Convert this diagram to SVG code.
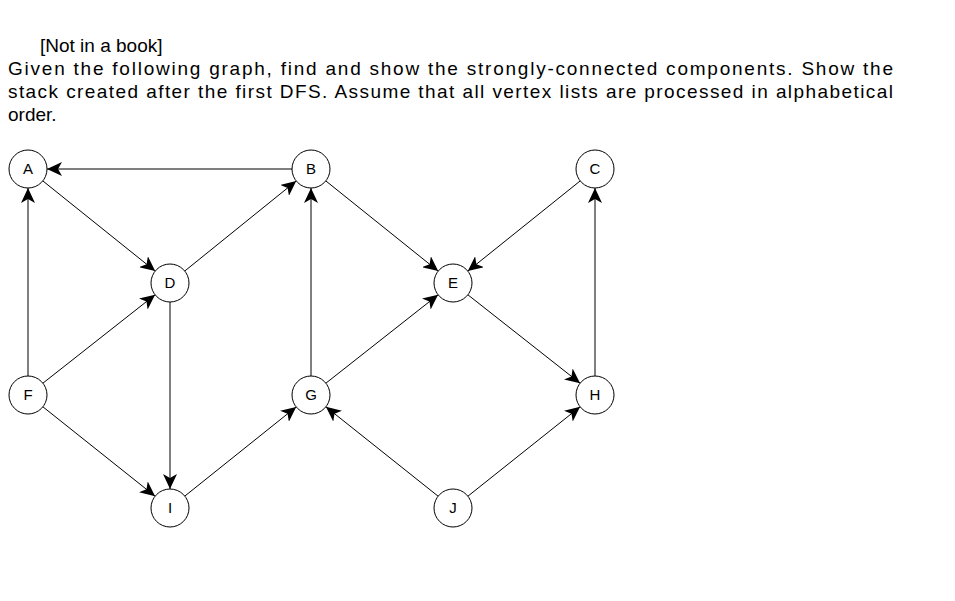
<svg xmlns="http://www.w3.org/2000/svg" width="955" height="601" viewBox="0 0 955 601">
<style>
.t{font-family:"Liberation Sans",Arial,sans-serif;font-size:19px;fill:#000}
.n circle{fill:#fff;stroke:#000;stroke-width:1}
.n text{font-family:"Liberation Sans",Arial,sans-serif;font-size:15px;text-anchor:middle;fill:#000}
#edges line{stroke:#000;stroke-width:1;marker-end:url(#ah)}
</style>
<defs><marker id="ah" markerUnits="userSpaceOnUse" markerWidth="16" markerHeight="14" refX="15" refY="7" orient="auto"><path d="M0,0 L15,7 L0,14 L4,7 z" fill="#000"/></marker></defs>
<rect width="955" height="601" fill="#fff"/>
<text class="t" x="40" y="52">[Not in a book]</text>
<text class="t" x="8" y="75" textLength="885" lengthAdjust="spacing">Given the following graph, find and show the strongly-connected components.  Show the</text>
<text class="t" x="8" y="98" textLength="885" lengthAdjust="spacing">stack created after the first DFS. Assume that all vertex lists are processed in alphabetical</text>
<text class="t" x="8" y="121">order.</text>
<g id="edges">
<line x1="292" y1="169" x2="47" y2="169"/>
<line x1="42.8" y1="180.9" x2="155.2" y2="271.1"/>
<line x1="184.8" y1="271" x2="296.2" y2="181"/>
<line x1="170" y1="302" x2="170" y2="489"/>
<line x1="28" y1="376" x2="28" y2="188"/>
<line x1="42.9" y1="383.2" x2="155.1" y2="294.8"/>
<line x1="42.9" y1="406.8" x2="155.1" y2="496.2"/>
<line x1="184.8" y1="496.1" x2="296.2" y2="406.9"/>
<line x1="311" y1="376" x2="311" y2="188"/>
<line x1="325.9" y1="383.2" x2="438.1" y2="294.8"/>
<line x1="325.8" y1="180.9" x2="438.2" y2="271.1"/>
<line x1="580.2" y1="180.9" x2="467.8" y2="271.1"/>
<line x1="467.9" y1="294.8" x2="580.1" y2="383.2"/>
<line x1="595" y1="376" x2="595" y2="188"/>
<line x1="438.1" y1="496.2" x2="325.9" y2="406.8"/>
<line x1="467.9" y1="496.2" x2="580.1" y2="406.8"/>
</g>
<g id="A" class="n"><circle cx="28" cy="169" r="19"/><text x="28" y="174">A</text></g>
<g id="B" class="n"><circle cx="311" cy="169" r="19"/><text x="311" y="174">B</text></g>
<g id="C" class="n"><circle cx="595" cy="169" r="19"/><text x="595" y="174">C</text></g>
<g id="D" class="n"><circle cx="170" cy="283" r="19"/><text x="170" y="288">D</text></g>
<g id="E" class="n"><circle cx="453" cy="283" r="19"/><text x="453" y="288">E</text></g>
<g id="F" class="n"><circle cx="28" cy="395" r="19"/><text x="28" y="400">F</text></g>
<g id="G" class="n"><circle cx="311" cy="395" r="19"/><text x="311" y="400">G</text></g>
<g id="H" class="n"><circle cx="595" cy="395" r="19"/><text x="595" y="400">H</text></g>
<g id="I" class="n"><circle cx="170" cy="508" r="19"/><text x="170" y="513">I</text></g>
<g id="J" class="n"><circle cx="453" cy="508" r="19"/><text x="453" y="513">J</text></g>
</svg>
